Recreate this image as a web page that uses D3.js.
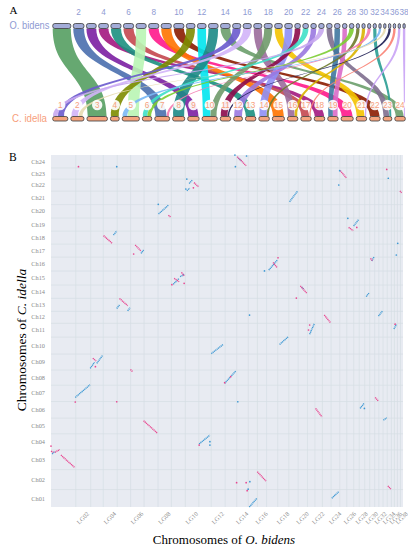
<!DOCTYPE html>
<html>
<head>
<meta charset="utf-8">
<script src="https://cdn.jsdelivr.net/npm/d3@7"></script>
<style>
  body { margin: 0; background: #fff; }
  svg { display: block; }
</style>
</head>
<body>
<svg id="fig" width="408" height="550"></svg>
<script>
// ---- chromosome names
const obNames = ['LG01','LG02','LG03','LG04','LG05','LG06','LG07','LG08','LG09','LG10',
  'LG11','LG12','LG13','LG14','LG15','LG16','LG17','LG18','LG19','LG20',
  'LG21','LG22','LG23','LG24','LG25','LG26','LG27','LG28','LG29','LG30',
  'LG31','LG32','LG33','LG34','LG35','LG36','LG37','LG38'];
const ciNames = ['Ch01','Ch02','Ch03','Ch04','Ch05','Ch06','Ch07','Ch08','Ch09','Ch10',
  'Ch11','Ch12','Ch13','Ch14','Ch15','Ch16','Ch17','Ch18','Ch19','Ch20',
  'Ch21','Ch22','Ch23','Ch24'];

// chromosome sizes (Mb) used by the dot plot
const obLen = [61, 37.5, 31.5, 35, 33.5, 34, 35, 33.5, 35, 34, 31, 35, 29, 29, 23, 23, 28, 28,
  23.3, 23.3, 18.8, 18.8, 21.8, 21.8, 17.5, 17.5, 13.8, 13.8, 12.5, 12.5, 10.5, 10.5, 10.5, 10.5,
  7.6, 7.6, 7.6, 7.6];
const ciLen = [44.8, 50, 49, 40.5, 39.3, 41.5, 40.8, 38, 39.8, 42.5, 34.5, 30, 32.5, 33.3, 35,
  34.8, 32.5, 32.5, 32.8, 33.5, 33.8, 30, 27.8, 31.3];

// gene counts per chromosome used by the karyotype (panel A)
const obGenes = [1800, 1070, 975, 975, 1010, 1010, 1010, 1010, 1010, 1010, 860, 860, 960, 960,
  810, 810, 800, 800, 760, 760, 560, 560, 540, 540, 550, 550, 450, 450, 320, 320, 320, 320,
  240, 240, 240, 240, 240, 240];
const ciGenes = [1500, 1300, 2030, 870, 1700, 930, 1470, 1200, 1130, 1500, 1030, 870, 1030, 1040,
  1200, 1030, 1030, 1040, 1030, 1200, 1030, 1040, 860, 1040];

const obColors = ['#559e62','#4a6fae','#7b1fa2','#a3177f','#1b9080','#c4474f','#b9f5b4','#ff1a8c',
  '#ff7300','#8b1c00','#7d8c00','#00e5ee','#1d8a86','#6c9e6c','#6a5acd','#d2b4f8','#9b6b9b',
  '#6f9a6a','#f4c300','#8f8ff5','#8c0a4b','#3ee0c8','#9a78e0','#c8a8f0','#7e6e8e','#3f77a0',
  '#d96cc8','#7ccd32','#6e7a2a','#d8b400','#f47ab0','#2a9d94','#7ab8f5','#e8dcb0','#1a1a50',
  '#fa8072','#c9a3f5','#c9a3f5'];

// panel A links: [LG, from, to, Ch, from, to] as fraction of chromosome
const linksA = [
  [1, 0, 1, 3, 0.04, 0.96], [2, 0, 1, 7, 0.05, 0.8], [3, 0, 1, 9, 0.05, 0.95],
  [4, 0, 1, 18, 0.05, 0.95], [5, 0, 1, 13, 0.05, 0.95], [6, 0, 1, 17, 0.05, 0.8],
  [7, 0, 1, 5, 0.32, 0.98], [8, 0, 1, 20, 0.05, 0.95], [9, 0, 1, 15, 0.05, 0.95],
  [10, 0, 1, 22, 0.05, 0.95], [11, 0, 1, 4, 0.05, 0.95], [12, 0, 1, 10, 0.05, 0.55],
  [13, 0, 1, 8, 0.05, 0.95], [14, 0, 1, 24, 0.1, 0.85], [15, 0, 1, 1, 0.35, 0.75],
  [16, 0, 1, 2, 0.05, 0.55], [17, 0, 1, 16, 0.05, 0.7], [18, 0, 1, 10, 0.55, 0.95],
  [19, 0, 1, 21, 0.05, 0.8], [20, 0, 1, 14, 0.05, 0.75], [21, 0, 1, 11, 0.05, 0.7],
  [22, 0, 1, 6, 0.05, 0.55], [23, 0, 1, 12, 0.05, 0.95], [24, 0, 1, 1, 0.02, 0.33],
  [25, 0, 1, 23, 0.05, 0.7], [26, 0, 1, 19, 0.05, 0.5], [27, 0, 1, 19, 0.5, 0.95],
  [28, 0, 1, 6, 0.55, 0.95], [29, 0, 1, 14, 0.75, 0.95], [30, 0, 1, 16, 0.7, 0.95],
  [31, 0, 1, 7, 0.8, 0.95], [32, 0, 1, 23, 0.72, 0.95], [33, 0, 1, 5, 0.02, 0.3],
  [34, 0, 1, 2, 0.6, 0.9], [35, 0, 1, 11, 0.72, 0.85], [36, 0, 1, 17, 0.82, 0.95],
  [37, 0, 1, 21, 0.82, 0.95], [38, 0, 1, 24, 0.87, 0.97]
];

// panel B collinear blocks: [LG, start, end, Ch, start, end, strand] (Mb)
const blocks = [
  [2, 0, 37, 7, 9, 40.8, '+'], [1, 3, 10, 3, 38, 44, '+'], [11, 2, 29, 4, 14, 36, '+'],
  [13, 0, 27.5, 8, 3.5, 34, '+'], [15, 4, 23, 1, 0, 22, '+'], [24, 3, 20, 1, 22, 38, '+'],
  [28, 3.5, 13.8, 6, 23, 36, '+'], [33, 2.3, 10.5, 5, 33, 39, '+'], [10, 10.8, 19, 22, 18, 26.5, '+'],
  [10, 5, 12.5, 22, 0, 6, '+'], [19, 3, 23.3, 21, 6, 33, '+'], [8, 2.5, 27.5, 20, 9, 31, '+'],
  [27, 1, 13.8, 19, 11.5, 28, '+'], [4, 26.8, 35, 18, 21.5, 31.5, '+'], [6, 27.5, 34, 17, 8, 16.5, '+'],
  [9, 5.8, 20.8, 15, 0.5, 15.5, '+'], [9, 23.3, 33.5, 15, 19.5, 25.5, '+'], [5, 0, 7, 13, 6, 14.5, '+'],
  [5, 27.5, 33.5, 13, 0, 7.8, '+'], [12, 1.5, 31.5, 10, 0, 23, '+'], [3, 0, 10.8, 9, 3, 18, '+'],
  [3, 16.5, 31.5, 9, 15.5, 36, '+'], [17, 6.8, 28, 16, 1, 26, '+'], [21, 6.8, 18.8, 11, 6, 33, '+'],
  [18, 6, 28, 10, 23, 42.5, '+'], [30, 6.5, 12.5, 16, 24, 34.8, '+'], [29, 5, 12.5, 14, 3, 12.8, '+'],
  [32, 0.3, 10.5, 12, 17, 29.5, '+'], [36, 0, 6.5, 11, 19, 30.8, '+'], [20, 10, 16, 14, 27, 21, '+'],
  [14, 5, 14, 24, 24, 16, '+'],
  [1, 25, 60, 3, 35, 3.5, '-'], [1, 10, 22, 3, 42, 49, '-'], [1, 0, 6, 3, 45, 42, '-'],
  [7, 0, 35, 5, 31.5, 0, '-'], [16, 1, 23, 2, 43.5, 20, '-'], [34, 3, 10.5, 2, 8, 0, '-'],
  [22, 3, 18.8, 6, 23, 2, '-'], [31, 2.5, 10.5, 7, 9, 0, '-'], [14, 2.5, 25, 24, 27, 4.5, '-'],
  [25, 2.5, 17.5, 23, 20, 2, '-'], [10, 23, 34, 22, 20, 10, '-'], [8, 27.5, 33.5, 20, 6, 0, '-'],
  [26, 6, 17.5, 19, 8, 0, '-'], [4, 2, 23.5, 18, 20, 1, '-'], [6, 13, 27.5, 17, 29, 14, '-'],
  [9, 8.3, 20.8, 15, 15.5, 7, '-'], [9, 26.5, 33.3, 15, 30.5, 22, '-'], [5, 7, 27.5, 13, 31, 13, '-'],
  [3, 6.5, 15, 9, 28, 21.3, '-'], [6, 1, 6.5, 8, 38, 32.5, '-'], [17, 17.5, 28, 16, 20, 7, '-'],
  [20, 6.8, 23.3, 14, 30, 11, '-'], [23, 6, 21.8, 12, 19.5, 0, '-'], [30, 3.3, 9, 16, 30.5, 23.8, '-'],
  [38, 0, 4, 21, 33, 28, '-']
];

// isolated hits: [LG, pos, Ch, pos, strand]
const hits = [
  [10, 5, 22, 29, '+'], [10, 2.5, 22, 4, '+'], [8, 1.8, 20, 33, '+'], [26, 4, 19, 30.8, '+'],
  [29, 0.5, 6, 23, '+'], [11, 29, 4, 19.5, '+'], [11, 29, 4, 11, '+'], [14, 4, 6, 39.7, '+'],
  [16, 19, 15, 34, '+'], [15, 4.5, 12, 19.5, '+'], [25, 1, 23, 20, '+'], [34, 4, 23, 1, '+'],
  [24, 20.5, 22, 14, '+'], [5, 0, 24, 2, '+'], [37, 2, 18, 0.8, '+'], [36, 6, 17, 4, '+'],
  [13, 25.8, 24, 31, '+'], [14, 26, 24, 28.8, '+'], [13, 27, 24, 2, '+'], [15, 1, 1, 44.5, '+'],
  [15, 5.3, 2, 18.5, '+'],
  [2, 8, 24, 2, '-'], [34, 0, 23, 23, '-'], [10, 21.5, 22, 7, '-'], [27, 9, 19, 8, '-'],
  [6, 9, 17, 6.5, '-'], [9, 2.5, 14, 33, '-'], [9, 33.3, 15, 3, '-'], [3, 13, 9, 7, '-'],
  [13, 15, 8, 20, '-'], [18, 2, 16, 32, '-'], [19, 20, 13, 32, '-'], [21, 4, 11, 16.5, '-'],
  [21, 6.8, 11, 29, '-'], [36, 3, 11, 31, '-'], [2, 0, 6, 39, '-'], [5, 0, 6, 39.7, '-'],
  [14, 1, 2, 16, '-'], [11, 2, 4, 11, '-'], [14, 27.5, 1, 40.8, '-'], [14, 25, 2, 16, '-'],
  [13, 0, 8, 5, '-'], [1, 0, 4, 8.7, '-']
];

const svg = d3.select('#fig');
const serif = "'Liberation Serif', 'Times New Roman', serif";
const sans = "'Liberation Sans', 'DejaVu Sans', sans-serif";

// ================= panel A =================
const blue = '#8f9bd3', salmon = '#f7a07c';
const topY = 23.5, barH = 5, botY = 116.5;

function track(lengths, gap, x0, x1) {
  const s = d3.scaleLinear()
    .domain([0, d3.sum(lengths)])
    .range([x0, x1 - gap * (lengths.length - 1)]);
  const cum = d3.cumsum([0].concat(lengths));
  return lengths.map((l, i) => ({ x0: s(cum[i]) + i * gap, x1: s(cum[i + 1]) + i * gap }));
}
const obBars = track(obGenes, 2.4, 52.7, 405.3);
const ciBars = track(ciGenes, 3, 52.7, 405.3);

const gA = svg.append('g');
const ym = (topY + barH + botY) / 2;
gA.selectAll('path.rib')
  .data(linksA)
  .enter()
  .append('path')
  .attr('class', 'rib')
  .attr('fill', d => obColors[d[0] - 1])
  .attr('fill-opacity', 0.9)
  .attr('d', d => {
    const a = obBars[d[0] - 1], b = ciBars[d[3] - 1];
    const ax = d3.scaleLinear().range([a.x0, a.x1]);
    const bx = d3.scaleLinear().range([b.x0, b.x1]);
    const y0 = topY + barH, y1 = botY;
    const p = d3.path();
    p.moveTo(ax(d[1]), y0);
    p.bezierCurveTo(ax(d[1]), ym, bx(d[4]), ym, bx(d[4]), y1);
    p.lineTo(bx(d[5]), y1);
    p.bezierCurveTo(bx(d[5]), ym, ax(d[2]), ym, ax(d[2]), y0);
    p.closePath();
    return p.toString();
  });

gA.selectAll('rect.ob')
  .data(obBars)
  .enter()
  .append('rect')
  .attr('x', d => d.x0).attr('y', topY)
  .attr('width', d => d.x1 - d.x0).attr('height', barH)
  .attr('rx', 2.2)
  .attr('fill', '#a3acd8').attr('stroke', '#3a3a3a').attr('stroke-width', 0.8);

gA.selectAll('rect.ci')
  .data(ciBars)
  .enter()
  .append('rect')
  .attr('x', d => d.x0).attr('y', botY)
  .attr('width', d => d.x1 - d.x0).attr('height', 4.5)
  .attr('rx', 2)
  .attr('fill', '#f5a47e').attr('stroke', '#3a3a3a').attr('stroke-width', 0.8);

// even chromosome numbers above O. bidens
gA.selectAll('text.obn')
  .data(obBars.filter((d, i) => i % 2 === 1))
  .enter()
  .append('text')
  .attr('x', d => (d.x0 + d.x1) / 2).attr('y', 15)
  .attr('text-anchor', 'middle')
  .style('font-family', sans).style('font-size', '8.2px')
  .attr('fill', blue)
  .text((d, i) => String((i + 1) * 2));

// numbered circles above C. idella
const ciLab = gA.selectAll('g.cin')
  .data(ciBars)
  .enter()
  .append('g')
  .attr('transform', d => `translate(${(d.x0 + d.x1) / 2},105)`);
ciLab.append('circle').attr('r', 5.2).attr('fill', '#fff').attr('fill-opacity', 0.92);
ciLab.append('text')
  .attr('text-anchor', 'middle').attr('dy', '0.35em')
  .style('font-family', sans).style('font-size', '8.2px')
  .attr('fill', salmon)
  .text((d, i) => String(i + 1));

gA.append('text').attr('x', 9.5).attr('y', 29.3)
  .attr('textLength', 40).attr('lengthAdjust', 'spacingAndGlyphs')
  .style('font-family', sans).style('font-size', '11px')
  .attr('fill', blue).text('O. bidens');
gA.append('text').attr('x', 12).attr('y', 122.3)
  .attr('textLength', 35).attr('lengthAdjust', 'spacingAndGlyphs')
  .style('font-family', sans).style('font-size', '11px')
  .attr('fill', salmon).text('C. idella');
gA.append('text').attr('x', 9.5).attr('y', 14)
  .style('font-family', serif).style('font-size', '11px').text('A');

// ================= panel B =================
const L = 51, R = 403, T = 155, B = 507;
const x = d3.scaleLinear().domain([0, d3.sum(obLen)]).range([L, R]);
const y = d3.scaleLinear().domain([0, d3.sum(ciLen)]).range([B, T]);
const obOff = d3.cumsum([0].concat(obLen));
const ciOff = d3.cumsum([0].concat(ciLen));

const gB = svg.append('g');
gB.append('rect').attr('x', L).attr('y', T).attr('width', R - L).attr('height', B - T)
  .attr('fill', '#e8ebf2');

// grid at chromosome boundaries
gB.append('g')
  .attr('transform', `translate(0,${B})`)
  .call(d3.axisBottom(x).tickValues(obOff.slice(1, -1)).tickSize(-(B - T)).tickFormat(''))
  .call(g => g.select('.domain').remove())
  .call(g => g.selectAll('line').attr('stroke', '#d5dee4').attr('stroke-width', 0.7));
gB.append('g')
  .attr('transform', `translate(${L},0)`)
  .call(d3.axisLeft(y).tickValues(ciOff.slice(1, -1)).tickSize(-(R - L)).tickFormat(''))
  .call(g => g.select('.domain').remove())
  .call(g => g.selectAll('line').attr('stroke', '#d5dee4').attr('stroke-width', 0.7));

// tick labels at chromosome centres
const obMid = obLen.map((l, i) => obOff[i] + l / 2);
const ciMid = ciLen.map((l, i) => ciOff[i] + l / 2);
const xAxis = gB.append('g')
  .attr('transform', `translate(0,${B + 3})`)
  .call(d3.axisBottom(x)
    .tickValues(obMid.filter((d, i) => i % 2 === 1))
    .tickFormat((d, i) => obNames[i * 2 + 1])
    .tickSize(0));
xAxis.select('.domain').remove();
xAxis.selectAll('text')
  .attr('transform', 'translate(2,0) rotate(-45)')
  .attr('dy', '0.5em')
  .style('text-anchor', 'end')
  .style('font-family', serif).style('font-size', '6.3px')
  .attr('fill', '#8a8a8a');

const yAxis = gB.append('g')
  .attr('transform', `translate(${L - 3},0)`)
  .call(d3.axisLeft(y).tickValues(ciMid).tickFormat((d, i) => ciNames[i]).tickSize(0));
yAxis.select('.domain').remove();
yAxis.selectAll('text')
  .style('font-family', serif).style('font-size', '6.3px')
  .attr('fill', '#8a8a8a');

const col = s => (s === '+' ? '#3d98d3' : '#e8448f');

gB.selectAll('line.blk')
  .data(blocks)
  .enter()
  .append('line')
  .attr('x1', d => x(obOff[d[0] - 1] + d[1]))
  .attr('x2', d => x(obOff[d[0] - 1] + d[2]))
  .attr('y1', d => y(ciOff[d[3] - 1] + d[4]))
  .attr('y2', d => y(ciOff[d[3] - 1] + d[5]))
  .attr('stroke', d => col(d[6]))
  .attr('stroke-width', 1.4)
  .attr('stroke-dasharray', '1.1,0.6');

gB.selectAll('circle.hit')
  .data(hits)
  .enter()
  .append('circle')
  .attr('cx', d => x(obOff[d[0] - 1] + d[1]))
  .attr('cy', d => y(ciOff[d[2] - 1] + d[3]))
  .attr('r', 0.85)
  .attr('fill', d => col(d[4]));

// titles
const yt = gB.append('text')
  .attr('transform', 'translate(26,340) rotate(-90)')
  .attr('text-anchor', 'middle')
  .style('font-family', serif).style('font-size', '13.5px');
yt.append('tspan').text('Chromosomes of ');
yt.append('tspan').style('font-style', 'italic').text('C. idella');

const xt = gB.append('text')
  .attr('x', 224).attr('y', 544)
  .attr('text-anchor', 'middle')
  .style('font-family', serif).style('font-size', '13px');
xt.append('tspan').text('Chromosomes of ');
xt.append('tspan').style('font-style', 'italic').text('O. bidens');

gB.append('text').attr('x', 9).attr('y', 160.5)
  .style('font-family', serif).style('font-size', '11.5px').text('B');
</script>
</body>
</html>
